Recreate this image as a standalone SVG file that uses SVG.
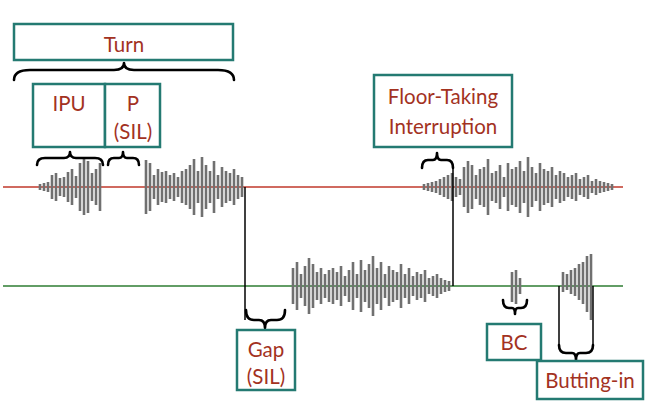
<svg xmlns="http://www.w3.org/2000/svg" width="651" height="405" viewBox="0 0 651 405">
<style>
.box{fill:#fff;stroke:#247a72;stroke-width:2.5}
.lbl{font-family:Lato,"Open Sans",sans-serif;font-size:20.5px;fill:#a3321f;text-anchor:middle}
.wave{stroke:#707070;stroke-width:2.6;fill:none}
.br{fill:none;stroke:#000;stroke-width:2.6;stroke-linecap:round;stroke-linejoin:round}
.vl{stroke:#000;stroke-width:1.5}
</style>
<rect width="651" height="405" fill="#fff"/>
<g id="tracks">
<line x1="3" y1="187" x2="623" y2="187" stroke="#c0392b" stroke-width="1.4"/>
<line x1="3" y1="286" x2="623" y2="286" stroke="#2e7d32" stroke-width="1.4"/>
</g>
<g id="waves">
<path class="wave" d="M40 184V190M44 183V191M48 182V192M52 175V199M56 173V201M60 178V196M64 177V197M68 172V202M72 169V205M76 176V198M80 163V211M84 159V215M88 161V213M92 173V201M96 169V205M100 163V211"/>
<path class="wave" d="M146 160V214M150 163V211M154 175V199M158 169V205M162 172V202M166 171V203M170 175V199M174 173V201M178 177V197M182 171V203M186 169V205M190 165V209M194 159V215M198 171V203M202 157V217M206 165V209M210 171V203M214 161V213M218 175V199M222 167V207M226 171V203M230 173V201M234 169V205M238 175V199M242 177V197"/>
<path class="wave" d="M293 268V304M297 262V310M301 274V298M305 266V306M309 258V314M313 264V308M317 272V300M321 268V304M325 274V298M329 270V302M333 268V304M337 272V300M341 266V306M345 276V296M349 270V302M353 262V310M357 274V298M361 260V312M365 270V302M369 264V308M373 256V316M377 268V304M381 262V310M385 274V298M389 266V306M393 270V302M397 272V300M401 264V308M405 274V298M409 268V304M413 276V296M417 272V300M421 274V298M425 270V302M429 278V294M433 276V296M437 274V298M441 278V294M445 280V292M449 281V291"/>
<path class="wave" d="M424 184V190M428 183V191M432 182V192M436 181V193M440 179V195M444 177V197M448 175V199M452 173V201M456 177V197M460 179V195M464 167V207M468 161V213M472 165V209M476 175V199M480 169V205M484 167V207M488 159V215M492 173V201M496 171V203M500 165V209M504 177V197M508 163V211M512 169V205M516 167V207M520 161V213M524 171V203M528 157V217M532 167V207M536 173V201M540 163V211M544 169V205M548 171V203M552 167V207M556 175V199M560 171V203M564 173V201M568 177V197M572 175V199M576 173V201M580 179V195M584 177V197M588 175V199M592 181V193M596 179V195M600 181V193M604 182V192M608 183V191M612 184V190"/>
<path class="wave" d="M512 272V302M516 270V304M520 278V294"/>
<path class="wave" d="M563 272V292M567 274V290M571 270V294M575 268V296M579 264V300M583 262V304M587 256V312M591 254V320"/>
</g>
<g id="connectors">
<line class="vl" x1="245" y1="187" x2="245" y2="320"/>
<line class="vl" x1="453" y1="286" x2="453" y2="165"/>
<line class="vl" x1="559" y1="286" x2="559" y2="346"/>
<line class="vl" x1="593" y1="286" x2="593" y2="346"/>
<path class="br" d="M14 80Q14 70 30 70L114 70Q124 70 124 63Q124 70 134 70L218 70Q234 70 234 80"/>
<path class="br" d="M37 165Q37 158 45 158L64 158Q70 158 70 152Q70 158 76 158L95 158Q103 158 103 165"/>
<path class="br" d="M108 165Q108 158 114 158L119 158Q123 158 123 152Q123 158 127 158L133 158Q139 158 139 165"/>
<path class="br" d="M422 168Q422 160 428 160L433 160Q437 160 437 153Q437 160 441 160L447 160Q453 160 453 168"/>
<path class="br" d="M246 310Q246 320 254 320L259 320Q265 320 265 328Q265 320 271 320L277 320Q285 320 285 310"/>
<path class="br" d="M503 300Q503 308 509 308L512 308Q515 308 515 314Q515 308 518 308L521 308Q527 308 527 300"/>
<path class="br" d="M559 345Q559 353 566 353L572 353Q576 353 576 360Q576 353 580 353L586 353Q593 353 593 345"/>
</g>
<g id="turn"><rect class="box" x="14" y="24" width="219" height="36"/><text class="lbl" x="124" y="52">Turn</text></g>
<g id="ipu"><rect class="box" x="33" y="84" width="72" height="63"/><text class="lbl" x="69" y="111">IPU</text></g>
<g id="pause"><rect class="box" x="105" y="84" width="55" height="63"/><text class="lbl" x="133" y="111">P</text><text class="lbl" x="133" y="139">(SIL)</text></g>
<g id="floor"><rect class="box" x="374" y="75" width="138" height="72"/><text class="lbl" x="443" y="104">Floor-Taking</text><text class="lbl" x="443" y="134">Interruption</text></g>
<g id="gap"><rect class="box" x="237" y="330" width="58" height="60"/><text class="lbl" x="266" y="357">Gap</text><text class="lbl" x="266" y="384">(SIL)</text></g>
<g id="bc"><rect class="box" x="487" y="324" width="54" height="36"/><text class="lbl" x="514" y="350">BC</text></g>
<g id="butting"><rect class="box" x="537" y="361" width="106" height="38"/><text class="lbl" x="590" y="388">Butting-in</text></g>
</svg>
